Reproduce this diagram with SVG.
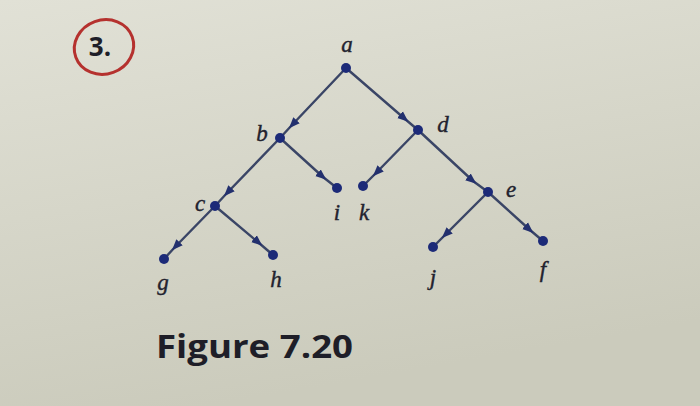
<svg xmlns="http://www.w3.org/2000/svg" width="700" height="406" viewBox="0 0 700 406">
<defs>
<linearGradient id="bg" x1="0" y1="0" x2="0.3" y2="1">
<stop offset="0" stop-color="#e1e1d6"/>
<stop offset="1" stop-color="#cbcbbc"/>
</linearGradient>
<marker id="ah" viewBox="0 0 10 10" refX="6" refY="5" markerWidth="11" markerHeight="11" markerUnits="userSpaceOnUse" orient="auto">
<path d="M0,1 L10,5 L0,9 z" fill="#23306e"/>
</marker>
</defs>
<style>
.e{fill:none;stroke:#3a4566;stroke-width:2.4;marker-mid:url(#ah)}
.n{fill:#1c2a78}
.l{font-family:"Liberation Serif",serif;font-style:italic;font-size:23px;fill:#22222e;text-anchor:middle;stroke:#22222e;stroke-width:0.4}
</style>
<rect width="700" height="406" fill="url(#bg)"/>
<g id="label3">
<ellipse cx="104" cy="47" rx="30" ry="27" transform="rotate(-20 104 47)" fill="none" stroke="#b5312e" stroke-width="3"/>
<text x="100" y="56" font-family="'Open Sans','Liberation Sans',sans-serif" font-weight="bold" font-size="26" fill="#1e1e28" text-anchor="middle">3.</text>
</g>
<g id="connectors">
<path class="e" d="M346,68 L292,125 L280,138"/>
<path class="e" d="M346,68 L405,119 L418,130"/>
<path class="e" d="M280,138 L227,193 L215,206"/>
<path class="e" d="M280,138 L323,177 L337,188"/>
<path class="e" d="M418,130 L376,173 L363,186"/>
<path class="e" d="M418,130 L473,181 L488,192"/>
<path class="e" d="M215,206 L175,247 L164,259"/>
<path class="e" d="M215,206 L259,243 L273,255"/>
<path class="e" d="M488,192 L445,235 L433,247"/>
<path class="e" d="M488,192 L530,230 L543,241"/>
</g>
<g id="node-a"><circle class="n" cx="346" cy="68" r="5"/><text class="l" x="347" y="52">a</text></g>
<g id="node-b"><circle class="n" cx="280" cy="138" r="5"/><text class="l" x="262" y="141">b</text></g>
<g id="node-d"><circle class="n" cx="418" cy="130" r="5"/><text class="l" x="443" y="132">d</text></g>
<g id="node-c"><circle class="n" cx="215" cy="206" r="5"/><text class="l" x="200" y="211">c</text></g>
<g id="node-i"><circle class="n" cx="337" cy="188" r="5"/><text class="l" x="337" y="220">i</text></g>
<g id="node-k"><circle class="n" cx="363" cy="186" r="5"/><text class="l" x="364" y="220">k</text></g>
<g id="node-e"><circle class="n" cx="488" cy="192" r="5"/><text class="l" x="511" y="197">e</text></g>
<g id="node-g"><circle class="n" cx="164" cy="259" r="5"/><text class="l" x="163" y="290">g</text></g>
<g id="node-h"><circle class="n" cx="273" cy="255" r="5"/><text class="l" x="276" y="287">h</text></g>
<g id="node-j"><circle class="n" cx="433" cy="247" r="5"/><text class="l" x="433" y="285">j</text></g>
<g id="node-f"><circle class="n" cx="543" cy="241" r="5"/><text class="l" x="543" y="277">f</text></g>
<text x="156" y="358" font-family="'Open Sans','Liberation Sans',sans-serif" font-weight="bold" font-size="33" fill="#1e1e28" textLength="197" lengthAdjust="spacingAndGlyphs">Figure 7.20</text>
</svg>
